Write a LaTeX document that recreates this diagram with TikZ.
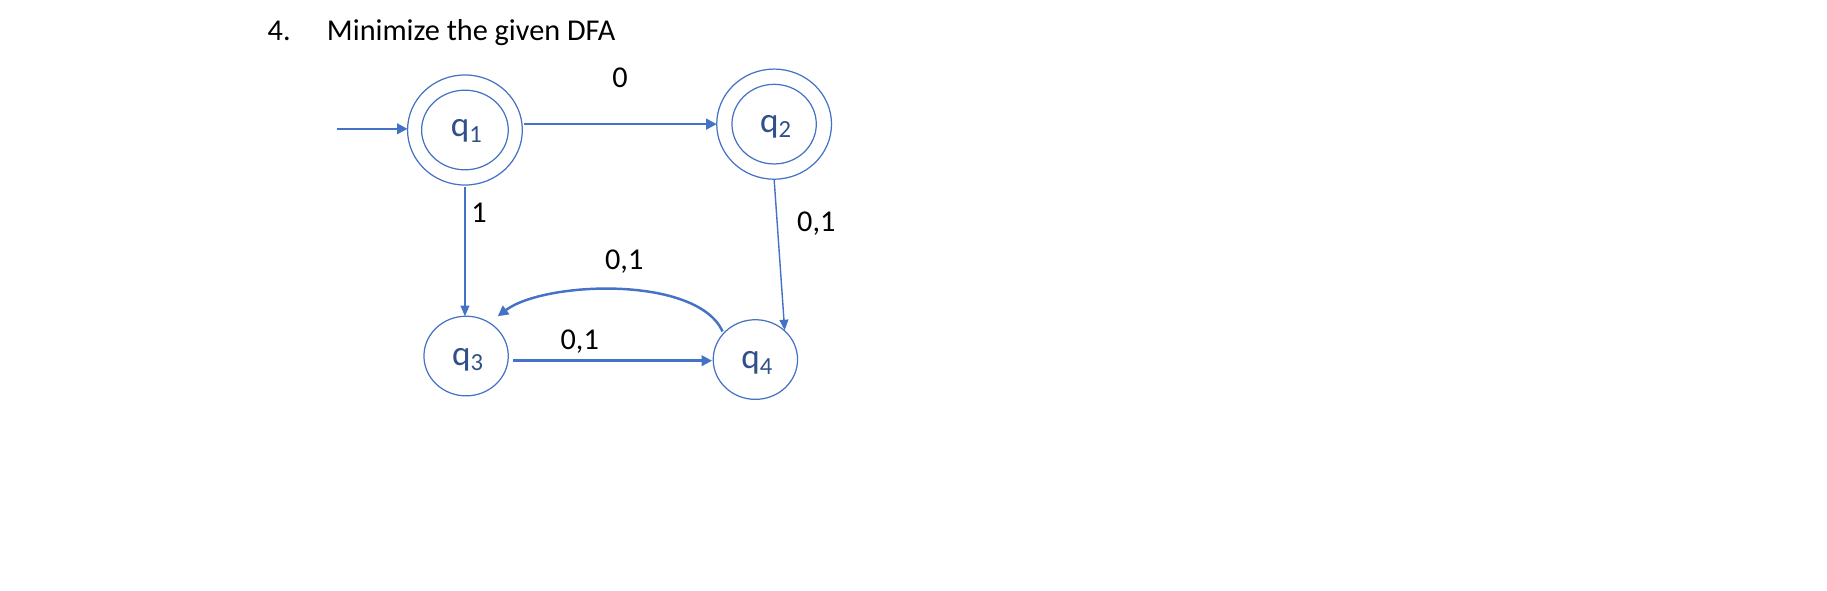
\documentclass[tikz,border=0pt]{standalone}
\usepackage{fontspec}
\setmainfont{Carlito}
\usetikzlibrary{arrows.meta}
\definecolor{ob}{RGB}{68,114,196}
\begin{document}
\begin{tikzpicture}[x=0.01171cm,y=-0.01171cm,
  lbl/.style={font=\fontsize{8.6pt}{10pt}\selectfont,inner sep=0},
  st/.style={font=\fontsize{10pt}{12pt}\selectfont,text=ob!70!black,inner sep=0},
  ring/.style={draw=ob,line width=0.35pt},
  tr/.style={draw=ob,line width=0.7pt,-{Triangle[length=3pt,width=3pt]}},
  trt/.style={draw=ob,line width=0.4pt,-{Triangle[length=3pt,width=2.5pt]}}]
\useasboundingbox (0,0) rectangle (1560,504);
\node[lbl,anchor=west] (title) at (228,28) {4.\hspace{1.2em}Minimize the given DFA};
% states
\draw[ring] (397,111) ellipse (49 and 47);
\draw[ring] (397,111) ellipse (37 and 34);
\draw[ring] (661,106) ellipse (49 and 47);
\draw[ring] (661,106) ellipse (36 and 34);
\draw[ring] (398,304) ellipse (36 and 34);
\draw[ring] (645,307) ellipse (36 and 34);
\node[st] (q1) at (399,112) {q\textsubscript{1}};
\node[st] (q2) at (663,108) {q\textsubscript{2}};
\node[st] (q3) at (400,307) {q\textsubscript{3}};
\node[st] (q4) at (647,310) {q\textsubscript{4}};
\coordinate (s) at (288,110);
\coordinate (q1e) at (348,110);
\coordinate (q1r) at (447,106);
\coordinate (q2l) at (612,106);
\coordinate (q1b) at (397,160);
\coordinate (q3t) at (397,270);
\coordinate (q2b) at (661,153);
\coordinate (q4t) at (670,282);
\coordinate (q3r) at (438,308);
\coordinate (q4l) at (608,308);
\coordinate (q4tl) at (617,283);
\coordinate (q3tr) at (425,270);
\draw[tr] (s) -- (q1e);
\draw[tr] (q1r) -- (q2l) node[lbl,midway,above=10pt] {0};
\draw[trt] (q1b) -- (q3t);
\node[lbl] at (409,182) {1};
\draw[trt] (q2b) -- (q4t);
\node[lbl] at (697,191) {0,1};
\draw[tr] (q3r) -- (q4l);
\node[lbl] at (495,292) {0,1};
\draw[tr] (q4tl) .. controls (595,235) and (465,240) .. (q3tr);
\node[lbl] at (533,223) {0,1};
\end{tikzpicture}
\end{document}
